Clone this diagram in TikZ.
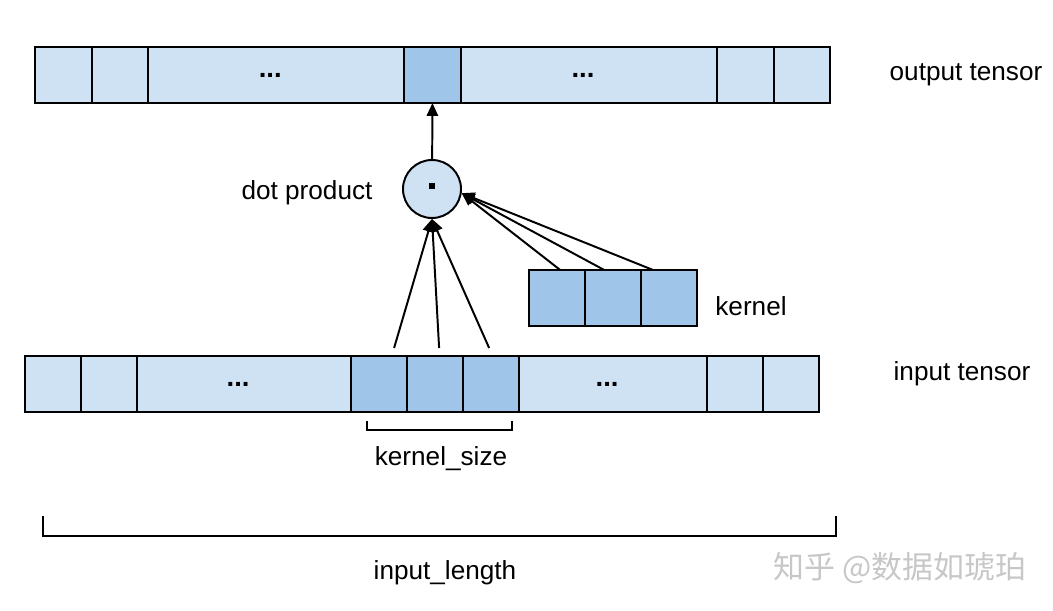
\documentclass[tikz,border=0pt]{standalone}
\usepackage{fontspec}
\setmainfont{Liberation Sans}
\newfontfamily\cjkfont{Noto Sans CJK SC}
\usetikzlibrary{arrows.meta, positioning}

\definecolor{cellblue}{HTML}{CFE2F3}
\definecolor{cellhigh}{HTML}{9FC5E8}

\tikzset{
  cell/.style={draw, fill=cellblue, line width=1.4pt, outer sep=0pt, inner sep=0pt,
    minimum width=1.4cm, minimum height=1.4cm, font=\bfseries\fontsize{19.5}{22}\selectfont},
  hcell/.style={cell, fill=cellhigh},
  lbl/.style={font=\fontsize{18.6}{22}\selectfont, inner sep=0pt},
  arr/.style={line width=1.4pt, -{Triangle[length=3.2mm,width=2.8mm]}}
}
\newcommand{\gap}{...\kern0.3cm}

\begin{document}
\begin{tikzpicture}[x=0.025cm, y=-0.025cm]
\useasboundingbox (0,0) rectangle (1053,611);

% output tensor
\node[cell, minimum width=1.415cm, anchor=west] (o1) at (35,75) {};
\node[cell, minimum width=1.415cm, right=0pt of o1] (o2) {};
\node[cell, minimum width=6.4cm, right=0pt of o2] (o3) {\gap};
\node[hcell, minimum width=1.415cm, right=0pt of o3] (o4) {};
\node[cell, minimum width=6.4cm, right=0pt of o4] (o5) {\gap};
\node[cell, minimum width=1.415cm, right=0pt of o5] (o6) {};
\node[cell, minimum width=1.415cm, right=0pt of o6] (o7) {};
\node[lbl] (outlbl) at (966,75) {output tensor};

% input tensor
\node[cell, anchor=west] (i1) at (25,384) {};
\node[cell, right=0pt of i1] (i2) {};
\node[cell, minimum width=5.35cm, right=0pt of i2] (i3) {\gap};
\node[hcell, right=0pt of i3] (i4) {};
\node[hcell, right=0pt of i4] (i5) {};
\node[hcell, right=0pt of i5] (i6) {};
\node[cell, minimum width=4.7cm, right=0pt of i6] (i7) {\gap};
\node[cell, right=0pt of i7] (i8) {};
\node[cell, right=0pt of i8] (i9) {};
\node[lbl] (inlbl) at (962,374) {input tensor};

% kernel
\node[hcell, anchor=west] (k1) at (529,298) {};
\node[hcell, right=0pt of k1] (k2) {};
\node[hcell, right=0pt of k2] (k3) {};
\node[lbl] (klbl) at (751,306) {kernel};

% dot product
\node[circle, draw, fill=cellblue, line width=1.4pt, minimum size=1.45cm, inner sep=0pt] (dot) at (432,189) {};
\fill (429,183) rectangle (435,189);
\node[lbl] (dotlbl) at (307,193) {dot product};

\draw[arr] (dot) -- (o4);
\draw[arr] ([shift={(15,-8)}]i4.north) -- (dot.south);
\draw[arr] ([shift={(4,-8)}]i5.north) -- (dot.south);
\draw[arr] ([shift={(-2,-8)}]i6.north) -- (dot.south);
\draw[arr] ([xshift=0.08cm]k1.north) -- (dot.-8);
\draw[arr] ([xshift=-0.22cm]k2.north) -- (dot.-8);
\draw[arr] ([xshift=-0.4cm]k3.north) -- (dot.-8);

% brackets
\draw[line width=1.2pt] (367,421) |- (512,430) -- (512,421);
\node[lbl] (kslbl) at (441,459) {kernel\_size};
\draw[line width=1.2pt] (43,516) |- (836,536) -- (836,516);
\node[lbl] (illbl) at (445,573) {input\_length};

% watermark
\node[font=\cjkfont\fontsize{22}{26}\selectfont, text=black!22, inner sep=0pt] (wm) at (900,568) {知乎 @数据如琥珀};
\end{tikzpicture}
\end{document}
